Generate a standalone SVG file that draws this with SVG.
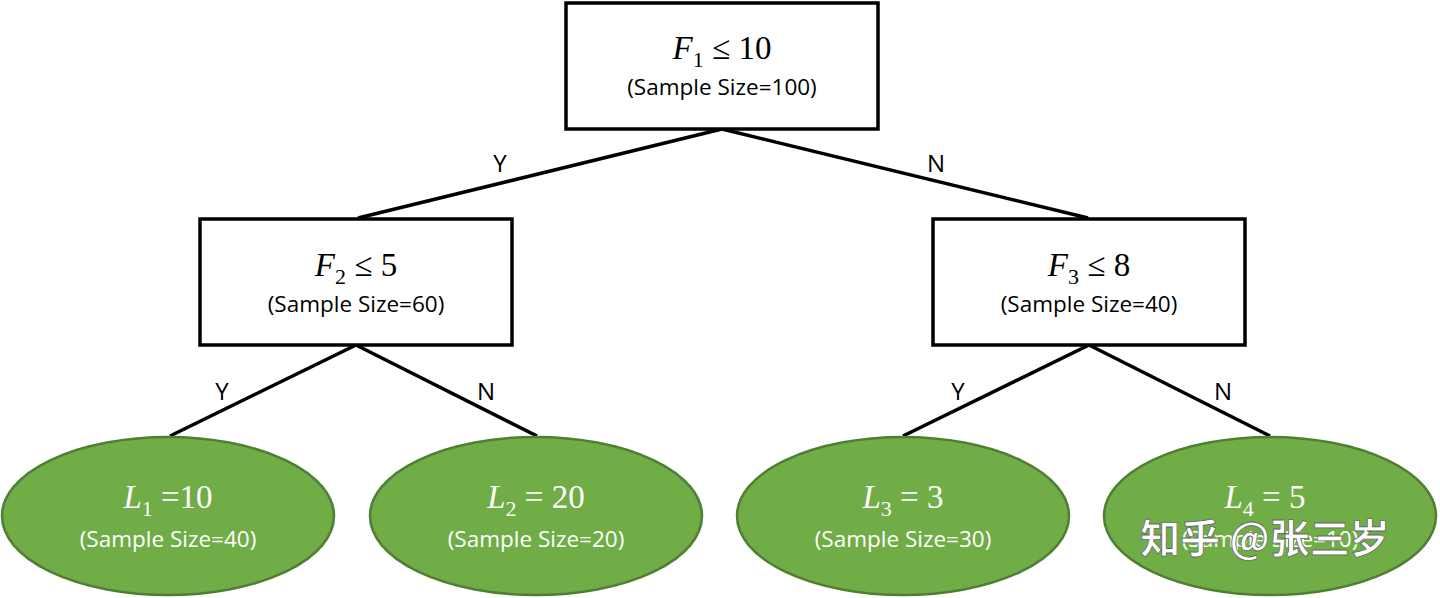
<svg xmlns="http://www.w3.org/2000/svg" width="1440" height="598" viewBox="0 0 1440 598">
<style>
.box{fill:#fff;stroke:#000;stroke-width:3.5}
.leaf{fill:#70AD47;stroke:#507E32;stroke-width:2.5}
.m{font-family:"Liberation Serif",serif;font-size:33px;text-anchor:middle}
.s{font-family:"Open Sans",sans-serif;font-size:22.5px;text-anchor:middle}
.lbl{font-family:"Open Sans",sans-serif;font-size:24px;text-anchor:middle}
.w{fill:#fff}
.e{stroke:#000;stroke-width:3.5;fill:none}
</style>
<rect width="1440" height="598" fill="#fff"/>
<g id="connectors">
<line class="e" x1="722" y1="129" x2="358" y2="218"/>
<line class="e" x1="722" y1="129" x2="1088" y2="218"/>
<line class="e" x1="356" y1="345" x2="170" y2="436"/>
<line class="e" x1="356" y1="345" x2="537" y2="436"/>
<line class="e" x1="1089" y1="345" x2="903" y2="436"/>
<line class="e" x1="1089" y1="345" x2="1270" y2="436"/>
<text class="lbl" x="500" y="172">Y</text>
<text class="lbl" x="936" y="172">N</text>
<text class="lbl" x="222" y="400">Y</text>
<text class="lbl" x="486" y="400">N</text>
<text class="lbl" x="958" y="400">Y</text>
<text class="lbl" x="1223" y="400">N</text>
</g>
<g id="root">
<rect class="box" x="566" y="3" width="312" height="126"/>
<text class="m" x="722" y="59"><tspan font-style="italic">F</tspan><tspan font-size="22" dy="8">1</tspan><tspan dy="-8"> ≤  10</tspan></text>
<text class="s" x="722" y="95">(Sample Size=100)</text>
</g>
<g id="n2">
<rect class="box" x="200" y="219" width="312" height="126"/>
<text class="m" x="356" y="276"><tspan font-style="italic">F</tspan><tspan font-size="22" dy="8">2</tspan><tspan dy="-8"> ≤  5</tspan></text>
<text class="s" x="356" y="312">(Sample Size=60)</text>
</g>
<g id="n3">
<rect class="box" x="933" y="219" width="312" height="126"/>
<text class="m" x="1089" y="276"><tspan font-style="italic">F</tspan><tspan font-size="22" dy="8">3</tspan><tspan dy="-8"> ≤  8</tspan></text>
<text class="s" x="1089" y="312">(Sample Size=40)</text>
</g>
<g id="l1">
<ellipse class="leaf" cx="168" cy="516" rx="166" ry="79"/>
<text class="m w" x="168" y="508"><tspan font-style="italic">L</tspan><tspan font-size="22" dy="8">1</tspan><tspan dy="-8"> =10</tspan></text>
<text class="s w" x="168" y="547">(Sample Size=40)</text>
</g>
<g id="l2">
<ellipse class="leaf" cx="536" cy="516" rx="166" ry="79"/>
<text class="m w" x="536" y="508"><tspan font-style="italic">L</tspan><tspan font-size="22" dy="8">2</tspan><tspan dy="-8"> =  20</tspan></text>
<text class="s w" x="536" y="547">(Sample Size=20)</text>
</g>
<g id="l3">
<ellipse class="leaf" cx="903" cy="516" rx="166" ry="79"/>
<text class="m w" x="903" y="508"><tspan font-style="italic">L</tspan><tspan font-size="22" dy="8">3</tspan><tspan dy="-8"> =  3</tspan></text>
<text class="s w" x="903" y="547">(Sample Size=30)</text>
</g>
<g id="l4">
<ellipse class="leaf" cx="1270" cy="516" rx="166" ry="79"/>
<text class="m w" x="1265" y="508"><tspan font-style="italic">L</tspan><tspan font-size="22" dy="8">4</tspan><tspan dy="-8"> =  5</tspan></text>
<text class="s w" x="1270" y="547">(Sample Size=10)</text>
</g>
<text x="1265" y="553" font-family="'Noto Sans CJK SC',sans-serif" font-size="40" font-weight="bold" fill="#fff" stroke="#666" stroke-width="0.8" text-anchor="middle">知乎 @张三岁</text>
</svg>
